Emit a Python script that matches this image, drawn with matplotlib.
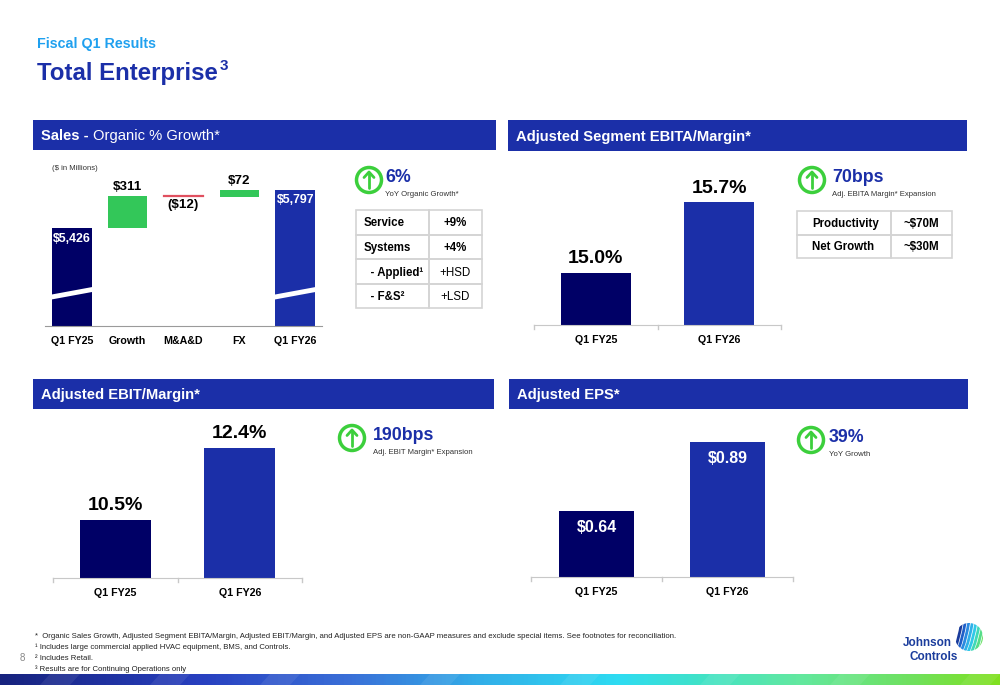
import numpy as np
import matplotlib
matplotlib.use('Agg')
import matplotlib.pyplot as plt
from matplotlib import font_manager
from matplotlib.patches import Rectangle, Circle, Polygon
from matplotlib.colors import LinearSegmentedColormap

plt.rcParams['font.family'] = ['Liberation Sans', 'DejaVu Sans']

# ---- data ----
wf_labels = ['Q1 FY25', 'Growth', 'M&A&D', 'FX', 'Q1 FY26']
wf_values = [5426, 311, -12, 72, 5797]
wf_text = ['$5,426', '$311', '($12)', '$72', '$5,797']

periods = ['Q1 FY25', 'Q1 FY26']
ebita_margin = [15.0, 15.7]
ebit_margin = [10.5, 12.4]
adj_eps = [0.64, 0.89]

sales_table = [('Service', '+9%', True), ('Systems', '+4%', True),
               ('  - Applied¹', '+HSD', False), ('  - F&S²', '+LSD', False)]
ebita_table = [('Productivity', '~$70M'), ('Net Growth', '~$30M')]

W, H = 1000, 685
NAVY = '#000066'
BLUE = '#1b2fa8'
GREEN = '#33c759'
RED = '#e0505f'
ICON = '#3ccf3c'

# narrow face looks closer to the slide; fall back to regular at smaller sizes
names = {f.name for f in font_manager.fontManager.ttflist}
HAS_N = 'Liberation Sans Narrow' in names
NF = ['Liberation Sans Narrow', 'Liberation Sans', 'DejaVu Sans'] if HAS_N else ['Liberation Sans', 'DejaVu Sans']


def ns(narrow_size, regular_size):
    return narrow_size if HAS_N else regular_size


fig = plt.figure(figsize=(W / 100, H / 100), dpi=100)
bg = fig.add_axes([0, 0, 1, 1], zorder=0)
bg.set_xlim(0, W); bg.set_ylim(H, 0); bg.axis('off')
renderer = fig.canvas.get_renderer()


def px_axes(l, t, r, b):
    ax = fig.add_axes([l / W, 1 - b / H, (r - l) / W, (b - t) / H], zorder=2)
    ax.patch.set_alpha(0)
    return ax


def header(x0, x1, y0, y1, parts):
    bg.add_patch(Rectangle((x0, y0), x1 - x0, y1 - y0, color=BLUE, lw=0))
    x = x0 + 8
    for txt, w in parts:
        t = bg.text(x, (y0 + y1) / 2 + 1, txt, color='white', fontsize=ns(12.5, 10.6),
                    fontweight=w, va='center', ha='left', family=NF)
        x += t.get_window_extent(renderer).width


def icon(cx, cy, tx, big, small):
    bg.add_patch(Circle((cx, cy), 12.5, fill=False, ec=ICON, lw=2.5))
    bg.plot([cx, cx], [cy + 8, cy - 7.5], color=ICON, lw=2, solid_capstyle='round')
    bg.plot([cx - 5, cx, cx + 5], [cy - 2.5, cy - 8, cy - 2.5], color=ICON, lw=2,
            solid_capstyle='round', solid_joinstyle='round')
    bg.text(tx, cy - 3, big, color=BLUE, fontsize=ns(15, 12.8), fontweight='bold',
            va='center', ha='left', family=NF)
    bg.text(tx, cy + 14, small, color='#333333', fontsize=ns(6.5, 5.6),
            va='center', ha='left', family=NF)


def style_bar_axes(ax, labels):
    for s in ['top', 'right', 'left']:
        ax.spines[s].set_visible(False)
    ax.spines['bottom'].set_color('#c8c8c8')
    ax.set_yticks([])
    ax.set_xticks(range(len(labels)))
    ax.set_xticklabels(labels, fontsize=ns(9, 7.7), fontweight='bold', family=NF)
    ax.tick_params(axis='x', length=0, pad=7)


# ---- titles ----
bg.text(37, 44, 'Fiscal Q1 Results', color='#1fa0ef', fontsize=10.3, fontweight='bold', va='center')
bg.text(37, 73, 'Total Enterprise', color=BLUE, fontsize=17.3, fontweight='bold', va='center')
bg.text(220, 66, '3', color=BLUE, fontsize=11, fontweight='bold', va='center')

# ---- section headers ----
header(33, 496, 120, 150, [('Sales - ', 'bold'), ('Organic % Growth*', 'normal')])
header(508, 967, 120, 151, [('Adjusted Segment EBITA/Margin*', 'bold')])
header(33, 494, 379, 409, [('Adjusted EBIT/Margin*', 'bold')])
header(509, 968, 379, 409, [('Adjusted EPS*', 'bold')])

# ---- sales waterfall ----
bg.text(52, 168, '($ in Millions)', fontsize=ns(6.5, 5.6), color='#333333', va='center', family=NF)
ax = px_axes(45, 160, 322, 326)
base = 4476
ax.set_ylim(base, base + 166 * 9.7)
ax.set_xlim(-0.48, 4.48)
x = np.arange(len(wf_labels))
bw = 0.71
lab_fs = ns(11.5, 9.6)
start = wf_values[0]
ax.bar(x[0], start - base, bottom=base, width=bw, color=NAVY)
run = start
for i, v in enumerate(wf_values[1:4], start=1):
    if v >= 0:
        ax.bar(x[i], v, bottom=run, width=bw, color=GREEN)
        ax.text(x[i], run + v + 30, wf_text[i], ha='center', va='bottom', fontsize=lab_fs,
                fontweight='bold', family=NF)
    else:
        ax.plot([x[i] - bw / 2, x[i] + bw / 2], [run, run], color=RED, lw=1.6)
        ax.text(x[i], run + v - 20, wf_text[i], ha='center', va='top', fontsize=lab_fs,
                fontweight='bold', family=NF)
    run += v
ax.bar(x[4], wf_values[4] - base, bottom=base, width=bw, color=BLUE)
for i in (0, 4):
    ax.text(x[i], wf_values[i] - 45, wf_text[i], ha='center', va='top', color='white',
            fontsize=ns(10.5, 8.9), fontweight='bold', family=NF)
# axis-break slashes
for xi in (x[0], x[4]):
    ax.plot([xi - bw / 2 - 0.02, xi + bw / 2 + 0.02], [base + 280, base + 355], color='white', lw=3.5)
style_bar_axes(ax, wf_labels)
ax.spines['bottom'].set_color('#9a9a9a')

# sales callout + table
icon(369, 180, 385, '6%', 'YoY Organic Growth*')
tx0, tx1, tmid, ty0, rh = 356, 482, 429, 210, 24.6
for r, (name, val, bold) in enumerate(sales_table):
    y0 = ty0 + r * rh
    bg.add_patch(Rectangle((tx0, y0), tmid - tx0, rh, fill=False, ec='#d4d4d4', lw=1.2))
    bg.add_patch(Rectangle((tmid, y0), tx1 - tmid, rh, fill=False, ec='#d4d4d4', lw=1.2))
    bg.text(tx0 + 8, y0 + rh / 2 + 1, name, fontsize=ns(10, 8.3), fontweight='bold', va='center', family=NF)
    bg.text((tmid + tx1) / 2, y0 + rh / 2 + 1, val, fontsize=ns(10, 8.3),
            fontweight='bold' if bold else 'normal', va='center', ha='center', family=NF)


def simple_bars(box, vals, ylim, labels_txt, inside, fs):
    ax = px_axes(*box)
    ax.set_ylim(*ylim)
    ax.set_xlim(-0.5, 1.5)
    ax.bar([0, 1], np.array(vals) - ylim[0], bottom=ylim[0], width=0.57, color=[NAVY, BLUE])
    span = ylim[1] - ylim[0]
    for i, (v, t) in enumerate(zip(vals, labels_txt)):
        if inside:
            ax.text(i, v - span * 0.055, t, ha='center', va='top', color='white', fontsize=fs,
                    fontweight='bold', family=NF)
        else:
            ax.text(i, v + span * 0.035, t, ha='center', va='bottom', fontsize=fs,
                    fontweight='bold', family=NF)
    style_bar_axes(ax, periods)
    # small boundary ticks under the baseline
    for xt in (-0.5, 0.5, 1.5):
        ax.plot([xt, xt], [0, -0.025], transform=ax.get_xaxis_transform(), color='#c8c8c8',
                lw=1, clip_on=False)
    return ax


pct_fs = ns(16.5, 14)
simple_bars((534, 160, 781, 325), ebita_margin, (14.485, 14.485 + 165 / 101.0),
            [f'{v:.1f}%' for v in ebita_margin], False, pct_fs)
simple_bars((53, 418, 302, 578), ebit_margin, (8.97, 8.97 + 160 / 37.9),
            [f'{v:.1f}%' for v in ebit_margin], False, pct_fs)
simple_bars((531, 418, 793, 577), adj_eps, (0.401, 0.401 + 159 / 276.0),
            [f'${v:.2f}' for v in adj_eps], True, ns(13.5, 11.5))

# ebita callout + table
icon(812, 180, 832, '70bps', 'Adj. EBITA Margin* Expansion')
tx0, tx1, tmid, ty0, rh = 797, 952, 891, 211, 23.5
for r, (name, val) in enumerate(ebita_table):
    y0 = ty0 + r * rh
    bg.add_patch(Rectangle((tx0, y0), tmid - tx0, rh, fill=False, ec='#d4d4d4', lw=1.2))
    bg.add_patch(Rectangle((tmid, y0), tx1 - tmid, rh, fill=False, ec='#d4d4d4', lw=1.2))
    bg.text(tx0 + 15, y0 + rh / 2 + 1, name, fontsize=ns(10, 8.3), fontweight='bold', va='center', family=NF)
    bg.text((tmid + tx1) / 2, y0 + rh / 2 + 1, val, fontsize=ns(10, 8.3), fontweight='bold',
            va='center', ha='center', family=NF)

icon(352, 438, 373, '190bps', 'Adj. EBIT Margin* Expansion')
icon(811, 440, 829, '39%', 'YoY Growth')

# ---- footnotes ----
notes = ['*  Organic Sales Growth, Adjusted Segment EBITA/Margin, Adjusted EBIT/Margin, and Adjusted EPS are non-GAAP measures and exclude special items. See footnotes for reconciliation.',
         '¹ Includes large commercial applied HVAC equipment, BMS, and Controls.',
         '² Includes Retail.',
         '³ Results are for Continuing Operations only']
for i, n in enumerate(notes):
    bg.text(35, 636 + i * 11, n, fontsize=ns(6.6, 5.6), color='#222222', va='center', family=NF)
bg.text(20, 658, '8', fontsize=7, color='#888888', va='center')

# ---- logo ----
bg.text(903, 643, 'Johnson', fontsize=8.5, color='#1a3c9c', va='center', fontweight='bold')
bg.text(909, 657, 'Controls', fontsize=8.5, color='#1a3c9c', va='center', fontweight='bold')
globe = Circle((969, 637), 14, transform=bg.transData)
logo_cols = ['#1a3c9c', '#1f5fc8', '#2a8ae0', '#30b0e8', '#30c8e8', '#40d8b8', '#55dd88', '#66e060']
for k, c in enumerate(logo_cols):
    x0 = 953 + k * 3.6
    xs = [x0, x0 + 4, x0 + 7, x0 + 9]
    ys = [654, 643, 631, 620]
    ln, = bg.plot(xs, ys, color=c, lw=2.0, solid_capstyle='butt')
    ln.set_clip_path(globe)

# ---- bottom gradient band ----
band = LinearSegmentedColormap.from_list('band', [
    (0.0, '#17237e'), (0.2, '#2840c0'), (0.35, '#3a70d8'), (0.48, '#32aee8'),
    (0.62, '#2edcf2'), (0.70, '#40e2c8'), (0.80, '#62e8a0'), (0.92, '#70e05a'), (1.0, '#80e020')])
bg.imshow(np.linspace(0, 1, 500)[None, :], cmap=band, aspect='auto',
          extent=(0, W, H, 674), zorder=1)
for sx in (40, 150, 260, 420, 560, 700, 830, 960):
    bg.add_patch(Polygon([(sx, H), (sx + 10, 674), (sx + 40, 674), (sx + 30, H)],
                         color='white', alpha=0.08, lw=0, zorder=2))

fig.savefig('out.png', dpi=100)
